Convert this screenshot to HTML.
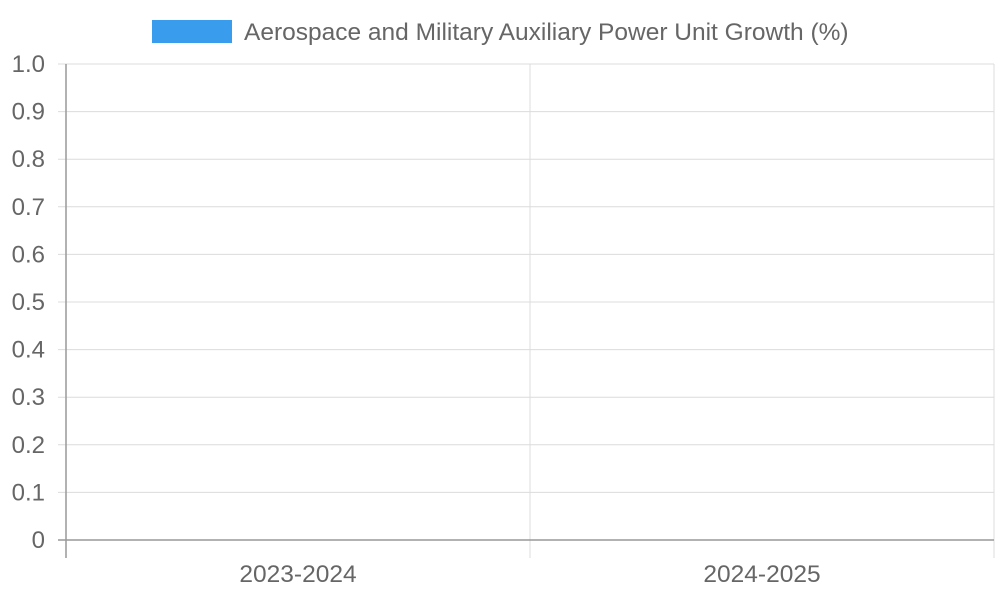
<!DOCTYPE html>
<html><head><meta charset="utf-8"><style>
html,body{margin:0;padding:0;background:#fff;width:1000px;height:600px;overflow:hidden}
svg{display:block;font-family:"Liberation Sans",sans-serif}
</style></head><body>
<svg id="chart" width="1000" height="600">
<g id="legend">
<rect x="152" y="20" width="80" height="23" fill="#3a9ced"/>
<text x="244" y="40" font-size="24.5" fill="#666">Aerospace and Military Auxiliary Power Unit Growth (%)</text>
</g>
<g id="grid"></g><g id="bars"></g><g id="axes"></g>
</svg>
<script>
const categories = ["2023-2024","2024-2025"];
const values = [0,0];
const yTicks = [0,0.1,0.2,0.3,0.4,0.5,0.6,0.7,0.8,0.9,1.0];
const yTickLabels = ["0","0.1","0.2","0.3","0.4","0.5","0.6","0.7","0.8","0.9","1.0"];

const NS="http://www.w3.org/2000/svg";
const L=66,R=994,T=64,B=540;
function y(v){return B-(v-0)/(1-0)*(B-T);}
const bw=(R-L)/categories.length;
function xc(i){return L+bw*(i+0.5);}
function mk(tag,attrs,parent){const e=document.createElementNS(NS,tag);for(const k in attrs)e.setAttribute(k,attrs[k]);parent.appendChild(e);return e;}
const grid=document.getElementById('grid'),axes=document.getElementById('axes'),bars=document.getElementById('bars');
yTicks.forEach((t,i)=>{
  const yy=y(t);
  if(t!==0){const g=mk('line',{x1:L-8,x2:R,y1:yy,y2:yy,stroke:'#dcdcdc','stroke-width':1},grid);
  
  }
  const tx=mk('text',{x:L-21,y:yy+8,'font-size':24,fill:'#666','text-anchor':'end'},axes);
  tx.textContent=yTickLabels[i];
  
  
});
for(let i=0;i<=categories.length;i++){
  const xx=L+bw*i;
  const g=mk('line',{x1:xx,x2:xx,y1:T,y2:B+18,stroke:i===0?'#999':'#dcdcdc','stroke-width':i===0?1.5:1},grid);
  
  
}
const xa=mk('line',{x1:L-8,x2:R,y1:B,y2:B,stroke:'#999','stroke-width':1.5},axes);


categories.forEach((c,i)=>{
  const tx=mk('text',{x:xc(i),y:582,'font-size':24.5,fill:'#666','text-anchor':'middle'},axes);
  tx.textContent=c;
  
  
  const h=B-y(values[i]);
  const r=mk('rect',{x:xc(i)-bw*0.4,width:bw*0.8,y:y(values[i]),height:h,fill:'#3a9ced'},bars);
  
  
});
</script>
</body></html>
